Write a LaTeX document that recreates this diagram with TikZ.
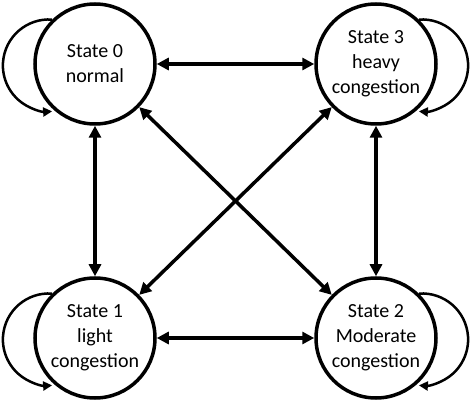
\documentclass[tikz,border=0pt]{standalone}
\usepackage{fontspec}
\setmainfont{Carlito}
\usepackage{tikz}
\usetikzlibrary{arrows.meta}

\tikzset{
  statenode/.style={circle,draw,line width=3.5pt,minimum size=120pt,inner sep=0pt,
    align=center,font=\fontsize{20}{25}\selectfont},
  link/.style={line width=3.5pt,{Triangle[length=12pt,width=12pt]}-{Triangle[length=12pt,width=12pt]}},
  selfloop/.style={line width=2.5pt,-{Triangle[length=9pt,width=9pt]}}
}

\begin{document}
\begin{tikzpicture}[x=1pt,y=1pt]
  \useasboundingbox (0,0) rectangle (474,402);
  \node[statenode] (s0) at (95,338){State 0\\normal};
  \node[statenode] (s3) at (376,338){State 3\\heavy\\congestion};
  \node[statenode] (s1) at (95,64){State 1\\light\\congestion};
  \node[statenode] (s2) at (376,64){State 2\\Moderate\\congestion};
  \draw[link] (s0) -- (s3); \draw[link] (s1) -- (s2);
  \draw[link] (s0) -- (s1); \draw[link] (s3) -- (s2);
  \draw[link] (s0) -- (s2); \draw[link] (s1) -- (s3);
  \draw[selfloop] (s0.134) arc[start angle=86,end angle=274,radius=46];
  \draw[selfloop] (s1.134) arc[start angle=86,end angle=274,radius=46];
  \draw[selfloop] (s3.46) arc[start angle=94,end angle=-94,radius=46];
  \draw[selfloop] (s2.46) arc[start angle=94,end angle=-94,radius=46];
\end{tikzpicture}
\end{document}
